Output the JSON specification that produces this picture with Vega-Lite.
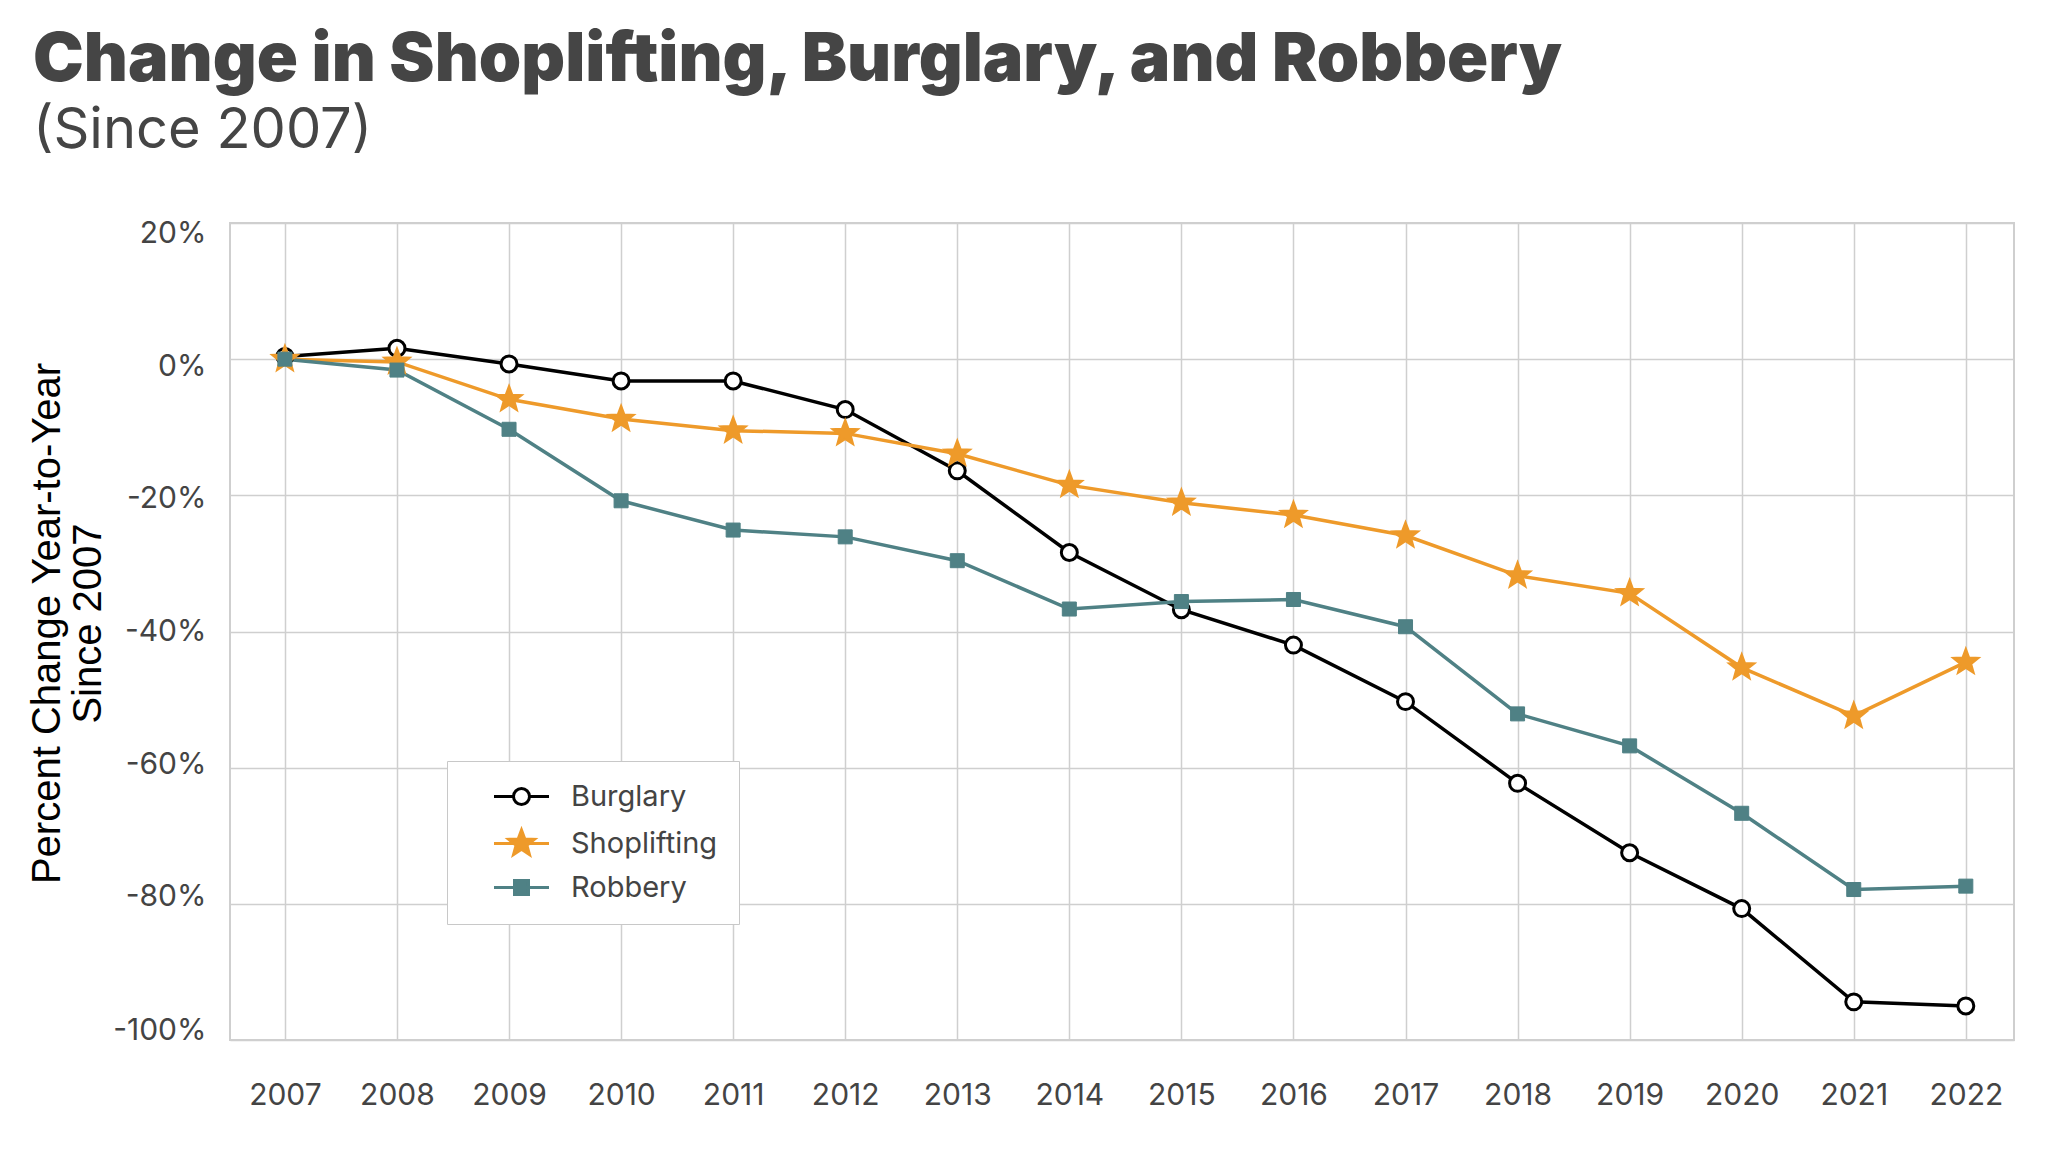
{
  "$schema": "https://vega.github.io/schema/vega-lite/v6.json",
  "autosize": {"type": "none"},
  "padding": {"left": 230, "top": 223, "right": 34, "bottom": 128},
  "width": 1784,
  "height": 817,
  "background": "white",
  "title": {
    "text": "Change in Shoplifting, Burglary, and Robbery",
    "subtitle": "(Since 2007)",
    "anchor": "start",
    "frame": "group",
    "dx": -197,
    "offset": 59,
    "font": "Inter",
    "fontSize": 68,
    "fontWeight": 900,
    "color": "#454545",
    "subtitleFont": "Inter",
    "subtitleFontSize": 56,
    "subtitleFontWeight": "normal",
    "subtitleColor": "#454545",
    "subtitlePadding": 9
  },
  "config": {"view": {"stroke": "#cfcfcf", "strokeWidth": 2}},
  "data": {
    "values": [
      {"year": 2007, "crime": "Burglary", "change": 0.4},
      {"year": 2008, "crime": "Burglary", "change": 1.6},
      {"year": 2009, "crime": "Burglary", "change": -0.7},
      {"year": 2010, "crime": "Burglary", "change": -3.2},
      {"year": 2011, "crime": "Burglary", "change": -3.2},
      {"year": 2012, "crime": "Burglary", "change": -7.4},
      {"year": 2013, "crime": "Burglary", "change": -16.4},
      {"year": 2014, "crime": "Burglary", "change": -28.4},
      {"year": 2015, "crime": "Burglary", "change": -36.8},
      {"year": 2016, "crime": "Burglary", "change": -42.0},
      {"year": 2017, "crime": "Burglary", "change": -50.3},
      {"year": 2018, "crime": "Burglary", "change": -62.3},
      {"year": 2019, "crime": "Burglary", "change": -72.5},
      {"year": 2020, "crime": "Burglary", "change": -80.7},
      {"year": 2021, "crime": "Burglary", "change": -94.4},
      {"year": 2022, "crime": "Burglary", "change": -95.0},
      {"year": 2007, "crime": "Shoplifting", "change": 0},
      {"year": 2008, "crime": "Shoplifting", "change": -0.4},
      {"year": 2009, "crime": "Shoplifting", "change": -5.9},
      {"year": 2010, "crime": "Shoplifting", "change": -8.8},
      {"year": 2011, "crime": "Shoplifting", "change": -10.5},
      {"year": 2012, "crime": "Shoplifting", "change": -10.9},
      {"year": 2013, "crime": "Shoplifting", "change": -13.9},
      {"year": 2014, "crime": "Shoplifting", "change": -18.5},
      {"year": 2015, "crime": "Shoplifting", "change": -21.1},
      {"year": 2016, "crime": "Shoplifting", "change": -22.9},
      {"year": 2017, "crime": "Shoplifting", "change": -25.9},
      {"year": 2018, "crime": "Shoplifting", "change": -31.8},
      {"year": 2019, "crime": "Shoplifting", "change": -34.4},
      {"year": 2020, "crime": "Shoplifting", "change": -45.3},
      {"year": 2021, "crime": "Shoplifting", "change": -52.4},
      {"year": 2022, "crime": "Shoplifting", "change": -44.5},
      {"year": 2007, "crime": "Robbery", "change": 0},
      {"year": 2008, "crime": "Robbery", "change": -1.6},
      {"year": 2009, "crime": "Robbery", "change": -10.3},
      {"year": 2010, "crime": "Robbery", "change": -20.8},
      {"year": 2011, "crime": "Robbery", "change": -25.1},
      {"year": 2012, "crime": "Robbery", "change": -26.1},
      {"year": 2013, "crime": "Robbery", "change": -29.6},
      {"year": 2014, "crime": "Robbery", "change": -36.7},
      {"year": 2015, "crime": "Robbery", "change": -35.6},
      {"year": 2016, "crime": "Robbery", "change": -35.3},
      {"year": 2017, "crime": "Robbery", "change": -39.3},
      {"year": 2018, "crime": "Robbery", "change": -52.1},
      {"year": 2019, "crime": "Robbery", "change": -56.8},
      {"year": 2020, "crime": "Robbery", "change": -66.7},
      {"year": 2021, "crime": "Robbery", "change": -77.9},
      {"year": 2022, "crime": "Robbery", "change": -77.4}
    ]
  },
  "encoding": {
    "x": {
      "field": "year",
      "type": "quantitative",
      "scale": {"domain": [2006.51, 2022.43], "nice": false, "zero": false},
      "axis": {
        "values": [2007, 2008, 2009, 2010, 2011, 2012, 2013, 2014, 2015, 2016, 2017, 2018, 2019, 2020, 2021, 2022],
        "format": "d",
        "title": null,
        "labelFont": "Inter",
        "labelFontSize": 30,
        "labelColor": "#444444",
        "labelPadding": 40,
        "labelFlush": false,
        "labelOverlap": false,
        "ticks": false,
        "domain": false,
        "grid": true,
        "gridColor": "#cfcfcf",
        "gridWidth": 1.5
      }
    },
    "y": {
      "field": "change",
      "type": "quantitative",
      "scale": {"domain": [-100, 20], "nice": false, "zero": false},
      "axis": {
        "values": [-100, -80, -60, -40, -20, 0, 20],
        "labelExpr": "datum.value + '%'",
        "title": ["Percent Change Year-to-Year", "Since 2007"],
        "titleFont": "Liberation Sans",
        "titleFontSize": 40,
        "titleFontWeight": "normal",
        "titleColor": "#000000",
        "titleLineHeight": 41,
        "titleX": -171,
        "titleY": 400,
        "titleAngle": -90,
        "titleAlign": "center",
        "titleBaseline": "alphabetic",
        "labelFont": "Inter",
        "labelFontSize": 30,
        "labelColor": "#444444",
        "labelPadding": 24,
        "labelOffset": {
          "condition": [
            {"test": "datum.value == 20", "value": 10},
            {"test": "datum.value == 0", "value": 7},
            {"test": "datum.value == -20", "value": 3},
            {"test": "datum.value == -60", "value": -3},
            {"test": "datum.value == -80", "value": -7},
            {"test": "datum.value == -100", "value": -10}
          ],
          "value": 0
        },
        "ticks": false,
        "domain": false,
        "grid": true,
        "gridColor": "#cfcfcf",
        "gridWidth": 1.5
      }
    }
  },
  "resolve": {
    "scale": {"shape": "independent", "fill": "independent", "stroke": "independent", "strokeWidth": "independent"}
  },
  "layer": [
    {
      "mark": {"type": "line"},
      "encoding": {
        "color": {
          "field": "crime",
          "type": "nominal",
          "scale": {"domain": ["Burglary", "Shoplifting", "Robbery"], "range": ["#000000", "#EE9A2A", "#4F8185"]},
          "legend": null
        },
        "strokeWidth": {
          "field": "crime",
          "type": "nominal",
          "scale": {"domain": ["Burglary", "Shoplifting", "Robbery"], "range": [3.5, 3.5, 2.8]},
          "legend": null
        }
      }
    },
    {
      "mark": {"type": "point", "filled": true, "opacity": 1, "size": 900},
      "encoding": {
        "shape": {
          "field": "crime",
          "type": "nominal",
          "scale": {
            "domain": ["Burglary", "Shoplifting", "Robbery"],
            "range": [
              "M-0.533,0A0.533,0.533,0,1,1,0.533,0A0.533,0.533,0,1,1,-0.533,0Z",
              "M0,-0.9L0.222,-0.306L0.856,-0.278L0.36,0.117L0.529,0.728L0,0.378L-0.529,0.728L-0.36,0.117L-0.856,-0.278L-0.222,-0.306Z",
              "M-0.467,-0.467H0.467V0.467H-0.467Z"
            ]
          },
          "legend": null
        },
        "fill": {
          "field": "crime",
          "type": "nominal",
          "scale": {"domain": ["Burglary", "Shoplifting", "Robbery"], "range": ["#ffffff", "#EE9A2A", "#4F8185"]},
          "legend": null
        },
        "stroke": {
          "field": "crime",
          "type": "nominal",
          "scale": {"domain": ["Burglary", "Shoplifting", "Robbery"], "range": ["#000000", "#EE9A2A", "#4F8185"]},
          "legend": null
        },
        "strokeWidth": {
          "field": "crime",
          "type": "nominal",
          "scale": {"domain": ["Burglary", "Shoplifting", "Robbery"], "range": [3, 1, 1]},
          "legend": null
        }
      }
    },
    {
      "transform": [{"filter": "false"}],
      "mark": {"type": "point", "filled": true, "opacity": 1, "strokeWidth": 3},
      "encoding": {
        "shape": {
          "field": "crime",
          "type": "nominal",
          "scale": {
            "domain": ["Burglary", "Shoplifting", "Robbery"],
            "range": [
              "M-2.5,0H-0.727M0.727,0H2.5M-0.727,0A0.727,0.727,0,1,1,0.727,0A0.727,0.727,0,1,1,-0.727,0Z",
              "M-2.5,0H2.5M0,-1.227L0.303,-0.417L1.167,-0.379L0.49,0.159L0.721,0.993L0,0.515L-0.721,0.993L-0.49,0.159L-1.167,-0.379L-0.303,-0.417Z",
              "M-2.5,0H2.5M-0.636,-0.636H0.636V0.636H-0.636Z"
            ]
          },
          "legend": {
            "orient": "none",
            "legendX": 217,
            "legendY": 538,
            "title": null,
            "direction": "vertical",
            "fillColor": "#ffffff",
            "strokeColor": "#c8c8c8",
            "padding": 21,
            "labelFont": "Inter",
            "labelFontSize": 29,
            "labelColor": "#444444",
            "symbolSize": 484,
            "symbolStrokeWidth": 3,
            "symbolOffset": 39,
            "labelOffset": 35,
            "rowPadding": 12
          }
        },
        "fill": {
          "field": "crime",
          "type": "nominal",
          "scale": {"domain": ["Burglary", "Shoplifting", "Robbery"], "range": ["#ffffff", "#EE9A2A", "#4F8185"]},
          "legend": {
            "orient": "none",
            "legendX": 217,
            "legendY": 538,
            "title": null,
            "direction": "vertical",
            "fillColor": "#ffffff",
            "strokeColor": "#c8c8c8",
            "padding": 21,
            "labelFont": "Inter",
            "labelFontSize": 29,
            "labelColor": "#444444",
            "symbolSize": 484,
            "symbolStrokeWidth": 3,
            "symbolOffset": 39,
            "labelOffset": 35,
            "rowPadding": 12
          }
        },
        "stroke": {
          "field": "crime",
          "type": "nominal",
          "scale": {"domain": ["Burglary", "Shoplifting", "Robbery"], "range": ["#000000", "#EE9A2A", "#4F8185"]},
          "legend": {
            "orient": "none",
            "legendX": 217,
            "legendY": 538,
            "title": null,
            "direction": "vertical",
            "fillColor": "#ffffff",
            "strokeColor": "#c8c8c8",
            "padding": 21,
            "labelFont": "Inter",
            "labelFontSize": 29,
            "labelColor": "#444444",
            "symbolSize": 484,
            "symbolStrokeWidth": 3,
            "symbolOffset": 39,
            "labelOffset": 35,
            "rowPadding": 12
          }
        }
      }
    }
  ]
}
